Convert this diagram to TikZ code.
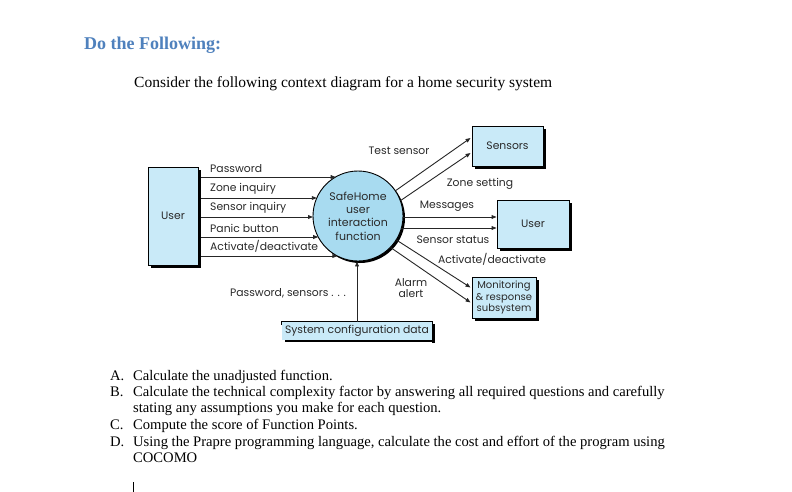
\documentclass[tikz,border=0pt]{standalone}
\usepackage{fontspec}
\setmainfont{Liberation Serif}
\newfontfamily\fut{Poppins}
\usetikzlibrary{arrows.meta,calc,shadows}
\definecolor{boxblue}{HTML}{C9EAF8}
\definecolor{circblue}{HTML}{A8DBF0}
\definecolor{headblue}{HTML}{4F81BD}
\definecolor{dtext}{HTML}{2A2A2A}
\begin{document}
\begin{tikzpicture}[x=1pt,y=-1pt,
  ext/.style={draw=black, line width=0.9pt, fill=boxblue, inner sep=0pt,
    font=\fut\fontsize{10.8}{11.5}\selectfont, text=dtext, align=center,
    drop shadow={fill=black, opacity=1, shadow xshift=3pt, shadow yshift=-3pt}},
  lbl/.style={font=\fut\fontsize{10.8}{11}\selectfont, text=dtext, inner sep=0pt},
  arr/.style={line width=0.9pt, draw=black!85, -{Triangle[length=5pt,width=3.8pt]}},
  para/.style={font=\fontsize{14.6}{16}\selectfont, inner sep=0pt, anchor=base west},
]
\useasboundingbox (0,0) rectangle (792,492);
\fill[white] (0,0) rectangle (792,492);

% headings
\node[inner sep=0pt, anchor=base west, font=\bfseries\fontsize{18}{20}\selectfont, text=headblue] (head) at (84,50) {Do the Following:};
\node[para, font=\fontsize{15.5}{16}\selectfont] (intro) at (134,87.5) {Consider the following context diagram for a home security system};

% external entities
\node[ext, minimum width=50pt, minimum height=98pt] (uL) at (173,216) {User};
\node[ext, minimum width=71pt, minimum height=40pt] (sens) at (507.5,146) {Sensors};
\node[ext, minimum width=72pt, minimum height=48pt] (uR) at (533,224) {User};
\node[ext, minimum width=64pt, minimum height=41pt, font=\fut\fontsize{10}{11.5}\selectfont] (mon) at (504,297.5) {Monitoring\\\& response\\subsystem};

% process
\node[circle, draw=black, line width=0.9pt, fill=circblue, minimum size=90pt, inner sep=0pt,
  drop shadow={fill=black, opacity=1, shadow xshift=2pt, shadow yshift=-2pt},
  font=\fut\fontsize{11}{13.3}\selectfont, align=center, text=dtext] (c) at (358,216)
  {SafeHome\\user\\interaction\\function};

% data store
\node[fill=boxblue, minimum width=150pt, minimum height=18pt, inner sep=0pt, lbl] (ds) at (357,331) {System configuration data};
\fill[black] ([yshift=-2pt]ds.north east) rectangle ([xshift=3pt,yshift=-3pt]ds.south east);
\fill[black] ([xshift=3pt]ds.south west) rectangle ([xshift=3pt,yshift=-2pt]ds.south east);
\draw[line width=0.9pt] ([yshift=-3pt]ds.north west) -- (ds.north west) -- (ds.north east) -- (ds.south east);

% inputs from user
\draw[arr] ([xshift=3pt]uL.east |- 0,177) -- ($(c.center)+(-22.4,-39)$);
\draw[arr] ([xshift=3pt]uL.east |- 0,198) -- ($(c.center)+(-41.2,-18)$);
\draw[arr] ([xshift=3pt]uL.east |- 0,217) -- ($(c.center)+(-45,1)$);
\draw[arr] ([xshift=3pt]uL.east |- 0,237) -- ($(c.center)+(-39.8,21)$);
\draw[arr] ([xshift=3pt]uL.east |- 0,256) -- ($(c.center)+(-20.6,40)$);
\node[lbl, anchor=west] (l1) at (210,169) {Password};
\node[lbl, anchor=west] (l2) at (210,188.5) {Zone inquiry};
\node[lbl, anchor=west] (l3) at (210,208) {Sensor inquiry};
\node[lbl, anchor=west] (l4) at (210,228) {Panic button};
\node[lbl, anchor=west] (l5) at (210,246.5) {Activate/deactivate};

% outputs
\draw[arr] (c.34) -- ($(sens.west)+(-1,-8)$);
\draw[arr] (c.20) -- ($(sens.west)+(-1,7)$);
\draw[arr] ($(c.center)+(45,1)$) -- (uR.west |- 0,217);
\draw[arr] ($(c.center)+(43.4,12)$) -- (uR.west |- 0,228);
\draw[arr] (c.-32) -- ($(mon.west)+(-1,-10)$);
\draw[arr] (c.-44) -- ($(mon.west)+(-1,5)$);
\draw[arr] (ds.north) -- (ds.north |- c.south);

\node[lbl] (t1) at (399,151) {Test sensor};
\node[lbl] (t2) at (480,184) {Zone setting};
\node[lbl] (t3) at (447,206) {Messages};
\node[lbl] (t4) at (453,240) {Sensor status};
\node[lbl] (t5) at (492,259) {Activate/deactivate};
\node[lbl, align=center, font=\fut\fontsize{10.8}{11.5}\selectfont] (t6) at (411,288) {Alarm\\alert};
\node[lbl] (t7) at (288,293) {Password, sensors . . .};

% questions
\node[para] (qa) at (110,380) {A.};
\node[para] (qat) at (133,380) {Calculate the unadjusted function.};
\node[para] (qb) at (110,396) {B.};
\node[para] (qbt) at (133,396) {Calculate the technical complexity factor by answering all required questions and carefully};
\node[para] (qbt2) at (133,412.5) {stating any assumptions you make for each question.};
\node[para] (qc) at (110,429) {C.};
\node[para] (qct) at (133,429) {Compute the score of Function Points.};
\node[para] (qd) at (110,446) {D.};
\node[para] (qdt) at (133,446) {Using the Prapre programming language, calculate the cost and effort of the program using};
\node[para] (qdt2) at (133,462) {COCOMO};
\draw[line width=0.8pt] (133,482) -- (133,492);
\end{tikzpicture}
\end{document}
